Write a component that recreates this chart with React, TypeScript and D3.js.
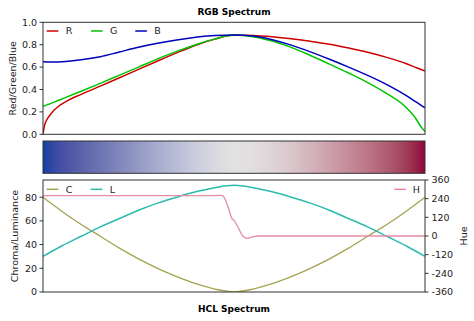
import React from 'react'
import * as d3 from 'd3'

// sample positions along the palette (0 = left end, 1 = right end)
const rgbPos = [0, 0.004, 0.01, 0.018, 0.028, 0.04, 0.06, 0.1, 0.15, 0.2, 0.25, 0.3, 0.35, 0.4, 0.45, 0.5,
  0.55, 0.6, 0.65, 0.7, 0.75, 0.8, 0.85, 0.9, 0.95, 0.975, 0.99, 1]
const red = [0, 0.08, 0.13, 0.17, 0.212, 0.248, 0.292, 0.357, 0.43, 0.505, 0.58, 0.655, 0.727, 0.795, 0.85, 0.886,
  0.883, 0.871, 0.853, 0.83, 0.804, 0.77, 0.733, 0.687, 0.632, 0.598, 0.578, 0.565]
const green = [0.25, 0.255, 0.263, 0.272, 0.285, 0.302, 0.33, 0.385, 0.455, 0.528, 0.6, 0.673, 0.74, 0.8, 0.852, 0.886,
  0.872, 0.833, 0.776, 0.704, 0.627, 0.547, 0.462, 0.364, 0.242, 0.146, 0.065, 0.025]
const blue = [0.648, 0.647, 0.646, 0.645, 0.645, 0.646, 0.65, 0.665, 0.693, 0.735, 0.777, 0.812, 0.842, 0.866, 0.882, 0.886,
  0.877, 0.844, 0.796, 0.736, 0.67, 0.6, 0.526, 0.444, 0.348, 0.292, 0.259, 0.238]

const hclPos = [0, 0.05, 0.1, 0.15, 0.2, 0.25, 0.3, 0.35, 0.4, 0.45, 0.5,
  0.55, 0.6, 0.65, 0.7, 0.75, 0.8, 0.85, 0.9, 0.95, 1]
const chroma = [80, 68, 57, 47, 37, 28, 20, 13, 7, 2.5, 0, 2.5, 7, 13, 20, 28, 37, 47, 57, 68, 80]
const luminance = [30, 39, 47, 55, 62, 69, 75, 80, 84.5, 88, 90, 88, 84.5, 80, 75, 69, 62, 55, 47, 39, 30]

const huePos = [0, 0.2, 0.4, 0.44, 0.46, 0.47, 0.477, 0.486, 0.494, 0.5, 0.504, 0.512, 0.52,
  0.527, 0.535, 0.548, 0.565, 0.8, 1]
const hue = [259, 259, 259, 259, 261, 259, 235, 175, 115, 100, 85, 50, 10, -8, -15, -6, 0, 0, 0]

const rgbTicks = [0, 0.2, 0.4, 0.6, 0.8, 1.0]
const clTicks = [0, 20, 40, 60, 80]
const hueTicks = [-360, -240, -120, 0, 120, 240, 360]

const W = 474
const H = 321
const left = 43
const right = 425
const font = 'DejaVu Sans, sans-serif'
const axisColor = '#333'

const colors = { R: '#cc0000', G: '#00c400', B: '#0000bb', C: '#a3a352', L: '#2bbbad', H: '#e48ca3' }

export default function App() {
  const x = d3.scaleLinear().domain([0, 1]).range([left, right])
  const yRgb = d3.scaleLinear().domain([0, 1]).range([134.3, 22.3])
  const yCl = d3.scaleLinear().domain([0, 94.5]).range([292, 180])
  const yHue = d3.scaleLinear().domain([-360, 360]).range([292, 180])

  const mk = (pos: number[], vals: number[], y: d3.ScaleLinear<number, number>) =>
    d3.line<number>().x((_, i) => x(pos[i])).y(v => y(v)).curve(d3.curveMonotoneX)(vals) || ''

  const rgbLines = [
    { key: 'R', vals: red },
    { key: 'G', vals: green },
    { key: 'B', vals: blue },
  ]

  const fmt = d3.format('.1f')

  return (
    <svg width={W} height={H} style={{ position: 'absolute', left: 0, top: 0 }} fontFamily={font}>
      <defs>
        <clipPath id="clipTop"><rect x={left} y={22.3} width={right - left} height={112} /></clipPath>
        <clipPath id="clipBot"><rect x={left} y={180} width={right - left} height={112} /></clipPath>
        <linearGradient id="spectrum" x1="0" x2="1" y1="0" y2="0">
          {rgbPos.map((p, i) => (
            <stop key={i} offset={p}
                  stopColor={d3.rgb(red[i] * 255, green[i] * 255, blue[i] * 255).formatHex()} />
          ))}
        </linearGradient>
      </defs>
      <rect width={W} height={H} fill="white" />

      {/* RGB panel */}
      <text x={234} y={14.5} textAnchor="middle" fontSize={9} fontWeight="bold">RGB Spectrum</text>
      <g clipPath="url(#clipTop)">
        {rgbLines.map(l => (
          <path key={l.key} d={mk(rgbPos, l.vals, yRgb)} fill="none"
                stroke={colors[l.key as keyof typeof colors]} strokeWidth={1.5} />
        ))}
      </g>
      <rect x={left} y={22.3} width={right - left} height={112} fill="none" stroke={axisColor} strokeWidth={1} />
      {rgbTicks.map(t => (
        <g key={t}>
          <line x1={left - 3.5} x2={left} y1={yRgb(t)} y2={yRgb(t)} stroke={axisColor} />
          <text x={left - 6} y={yRgb(t)} dy="0.35em" textAnchor="end" fontSize={9.5} fill="#222">{fmt(t)}</text>
        </g>
      ))}
      <text transform={`translate(15.5,${yRgb(0.5)}) rotate(-90)`} textAnchor="middle" fontSize={9.5} fill="#222">
        Red/Green/Blue
      </text>
      {rgbLines.map((l, i) => (
        <g key={l.key} transform={`translate(${46.7 + i * 44.3},31)`}>
          <line x1={0} x2={11.6} stroke={colors[l.key as keyof typeof colors]} strokeWidth={1.5} />
          <text x={19} dy="0.35em" fontSize={9.5} fill="#222">{l.key}</text>
        </g>
      ))}

      {/* palette swatch */}
      <rect x={left} y={141} width={right - left} height={32.3} fill="url(#spectrum)" stroke={axisColor} strokeWidth={1} />

      {/* HCL panel */}
      <g clipPath="url(#clipBot)">
        <path d={mk(hclPos, chroma, yCl)} fill="none" stroke={colors.C} strokeWidth={1.3} />
        <path d={mk(hclPos, luminance, yCl)} fill="none" stroke={colors.L} strokeWidth={1.5} />
        <path d={mk(huePos, hue, yHue)} fill="none" stroke={colors.H} strokeWidth={1.3} />
      </g>
      <rect x={left} y={180} width={right - left} height={112} fill="none" stroke={axisColor} strokeWidth={1} />
      {clTicks.map(t => (
        <g key={t}>
          <line x1={left - 3.5} x2={left} y1={yCl(t)} y2={yCl(t)} stroke={axisColor} />
          <text x={left - 6} y={yCl(t)} dy="0.35em" textAnchor="end" fontSize={9.5} fill="#222">{t}</text>
        </g>
      ))}
      {hueTicks.map(t => (
        <g key={t}>
          <line x1={right} x2={right + 3.5} y1={yHue(t)} y2={yHue(t)} stroke={axisColor} />
          <text x={right + 6.5} y={yHue(t)} dy="0.35em" fontSize={9.5} fill="#222">{t}</text>
        </g>
      ))}
      <text transform={`translate(18,${yCl(47.25)}) rotate(-90)`} textAnchor="middle" fontSize={9.5} fill="#222">
        Chroma/Luminance
      </text>
      <text transform={`translate(467,236) rotate(-90)`} textAnchor="middle" fontSize={9.5} fill="#222">Hue</text>
      {(['C', 'L'] as const).map((k, i) => (
        <g key={k} transform={`translate(${46.7 + i * 44},189.3)`}>
          <line x1={0} x2={11.6} stroke={colors[k]} strokeWidth={1.5} />
          <text x={19} dy="0.35em" fontSize={9.5} fill="#222">{k}</text>
        </g>
      ))}
      <g transform="translate(394.3,189.3)">
        <line x1={0} x2={11.6} stroke={colors.H} strokeWidth={1.5} />
        <text x={18.5} dy="0.35em" fontSize={9.5} fill="#222">H</text>
      </g>
      <text x={234} y={312} textAnchor="middle" fontSize={9} fontWeight="bold">HCL Spectrum</text>
    </svg>
  )
}
